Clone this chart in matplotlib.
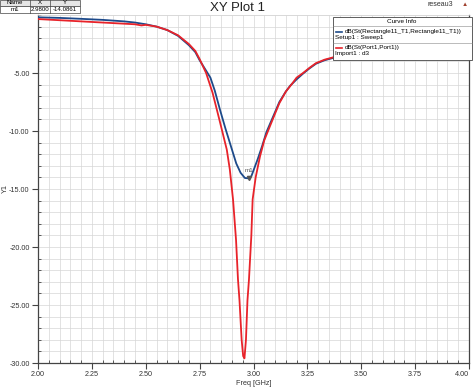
import matplotlib.pyplot as plt
from matplotlib.patches import Rectangle
from matplotlib.lines import Line2D
from matplotlib.ticker import MultipleLocator

plt.rcParams['font.family'] = ['Liberation Sans', 'DejaVu Sans']

# Simulated S11 (blue) and imported measurement (red)
freq_sim = [2.00, 2.10, 2.20, 2.30, 2.40, 2.45, 2.50, 2.55, 2.60, 2.65, 2.70, 2.73,
            2.75, 2.78, 2.80, 2.82, 2.845, 2.87, 2.89, 2.905, 2.92, 2.94, 2.96, 2.98,
            2.99, 3.00, 3.02, 3.04, 3.06, 3.09, 3.12, 3.15, 3.17, 3.20, 3.23, 3.26,
            3.29, 3.33, 3.38, 3.45, 3.55, 3.65, 3.75, 3.85, 4.00]
db_sim = [-0.20, -0.25, -0.33, -0.42, -0.55, -0.65, -0.80, -1.00, -1.30, -1.80, -2.60, -3.20,
          -3.90, -4.80, -5.40, -6.50, -8.20, -9.80, -11.00, -11.90, -12.80, -13.60, -14.05, -14.09,
          -13.90, -13.40, -12.40, -11.30, -10.10, -8.80, -7.50, -6.60, -6.10, -5.55, -5.05, -4.60,
          -4.20, -3.90, -3.65, -3.30, -2.90, -2.60, -2.35, -2.15, -1.90]

freq_meas = [2.00, 2.10, 2.20, 2.30, 2.40, 2.45, 2.48, 2.50, 2.55, 2.60, 2.65, 2.70,
             2.73, 2.75, 2.78, 2.81, 2.84, 2.86, 2.876, 2.89, 2.905, 2.919, 2.928, 2.935,
             2.945, 2.952, 2.958, 2.965, 2.972, 2.979, 2.99, 2.996, 3.01, 3.03, 3.05, 3.076,
             3.10, 3.12, 3.15, 3.18, 3.20, 3.23, 3.26, 3.29, 3.33, 3.38, 3.45, 3.55,
             3.65, 3.75, 3.85, 4.00]
db_meas = [-0.35, -0.45, -0.55, -0.65, -0.75, -0.80, -0.90, -0.85, -1.00, -1.30, -1.75, -2.50,
           -3.10, -3.80, -5.00, -6.70, -8.90, -10.40, -11.60, -13.30, -15.90, -19.40, -22.80, -24.60,
           -28.00, -29.40, -29.60, -28.00, -24.60, -22.80, -19.00, -15.90, -14.00, -12.20, -10.80, -9.60,
           -8.50, -7.60, -6.60, -5.90, -5.40, -5.00, -4.55, -4.15, -3.85, -3.60, -3.25, -2.85,
           -2.55, -2.30, -2.10, -1.85]

x_ticks = [2.00, 2.25, 2.50, 2.75, 3.00, 3.25, 3.50, 3.75, 4.00]
y_ticks = [-30, -25, -20, -15, -10, -5]

marker_x = 2.98
marker_y = -14.0861

W, H = 474, 392
fig = plt.figure(figsize=(W / 100, H / 100), dpi=100)
ax = fig.add_axes([38 / W, 1 - 363 / H, 431 / W, 348 / H])

blue = '#1d4a8a'
red = '#e8232a'
ax.plot(freq_sim, db_sim, color=blue, lw=1.3, zorder=3)
ax.plot(freq_meas, db_meas, color=red, lw=1.3, zorder=3)

# marker m1
ax.plot([marker_x], [marker_y], marker='v', ms=3, color='#555555', zorder=4)
ax.text(marker_x, marker_y + 0.5, 'm1', fontsize=4.5, color='#555555', ha='center', va='bottom', zorder=4)

ax.set_xlim(2.0, 4.0)
ax.set_ylim(-30, 0)
ax.set_xticks(x_ticks, [f'{v:.2f}' for v in x_ticks])
ax.set_yticks(y_ticks, [f'{v:.2f}' for v in y_ticks])
ax.xaxis.set_minor_locator(MultipleLocator(0.05))
ax.yaxis.set_minor_locator(MultipleLocator(1))
ax.grid(True, which='both', color='#d6d6d6', lw=0.5)
ax.set_axisbelow(True)
ax.tick_params(which='major', direction='out', length=4, width=0.8, color='#444444',
               labelsize=5.2, labelcolor='#333333', pad=2)
ax.tick_params(which='minor', direction='in', length=2, width=0.6, color='#444444')
for side in ['left', 'bottom', 'right']:
    ax.spines[side].set_color('#444444')
    ax.spines[side].set_linewidth(0.9)
ax.spines['top'].set_color('#d6d6d6')
ax.spines['top'].set_linewidth(0.5)

ax.set_xlabel('Freq [GHz]', fontsize=5.2, color='#333333', labelpad=1)
ax.set_ylabel('Y1', fontsize=5.2, color='#333333', labelpad=0)

fig.text(237 / W, 1 - 8 / H, 'XY Plot 1', fontsize=9.5, ha='center', va='center', color='#222222')
fig.text(440 / W, 1 - 5 / H, 'reseau3', fontsize=5, ha='center', va='center', color='#333333')
fig.text(465 / W, 1 - 5 / H, '\u25b2', fontsize=4.5, ha='center', va='center', color='#a0412e')


def px(x, y):
    return x / W, 1 - y / H


# marker table
table_font = 4.4
fig.patches.append(Rectangle(px(0, 6), 80 / W, 6 / H, transform=fig.transFigure,
                             facecolor='#e6e6e6', edgecolor='#444444', lw=0.5))
fig.patches.append(Rectangle(px(0, 13), 80 / W, 7 / H, transform=fig.transFigure,
                             facecolor='white', edgecolor='#444444', lw=0.5))
for xc in [30, 50]:
    fig.lines.append(Line2D([xc / W, xc / W], [1 - 0 / H, 1 - 13 / H], transform=fig.transFigure,
                            color='#444444', lw=0.5))
for xc, txt in zip([15, 40, 65], ['Name', 'X', 'Y']):
    fig.text(*px(xc, 3), txt, fontsize=table_font, ha='center', va='center')
for xc, txt in zip([15, 40, 65], ['m1', f'{marker_x:.4f}', f'{marker_y:.4f}']):
    fig.text(*px(xc, 9.5), txt, fontsize=table_font, ha='center', va='center')

# curve info box
leg_font = 4.6
fig.patches.append(Rectangle(px(333, 60), 139 / W, 43 / H, transform=fig.transFigure,
                             facecolor='white', edgecolor='#444444', lw=0.6, zorder=5))
fig.text(*px(402, 21.5), 'Curve Info', fontsize=leg_font, ha='center', va='center', zorder=6)
for yy in [26, 43]:
    fig.lines.append(Line2D([333 / W, 472 / W], [1 - yy / H, 1 - yy / H], transform=fig.transFigure,
                            color='#888888', lw=0.4, zorder=6))
entries = [(blue, 'dB(St(Rectangle11_T1,Rectangle11_T1))', 'Setup1 : Sweep1', 31.5),
           (red, 'dB(St(Port1,Port1))', 'Import1 : d3', 47.5)]
for col, name, sub, yy in entries:
    fig.lines.append(Line2D([336 / W, 342 / W], [1 - yy / H, 1 - yy / H], transform=fig.transFigure,
                            color=col, lw=1.2, zorder=6))
    fig.text(*px(345, yy), name, fontsize=leg_font, ha='left', va='center', zorder=6)
    fig.text(*px(335, yy + 6.5), sub, fontsize=leg_font, ha='left', va='center', zorder=6)

# keep the last x label inside the picture
fig.canvas.draw()
for lab in ax.get_xticklabels():
    if lab.get_text() == '4.00':
        lab.set_horizontalalignment('right')

plt.savefig('out.png', dpi=100)
